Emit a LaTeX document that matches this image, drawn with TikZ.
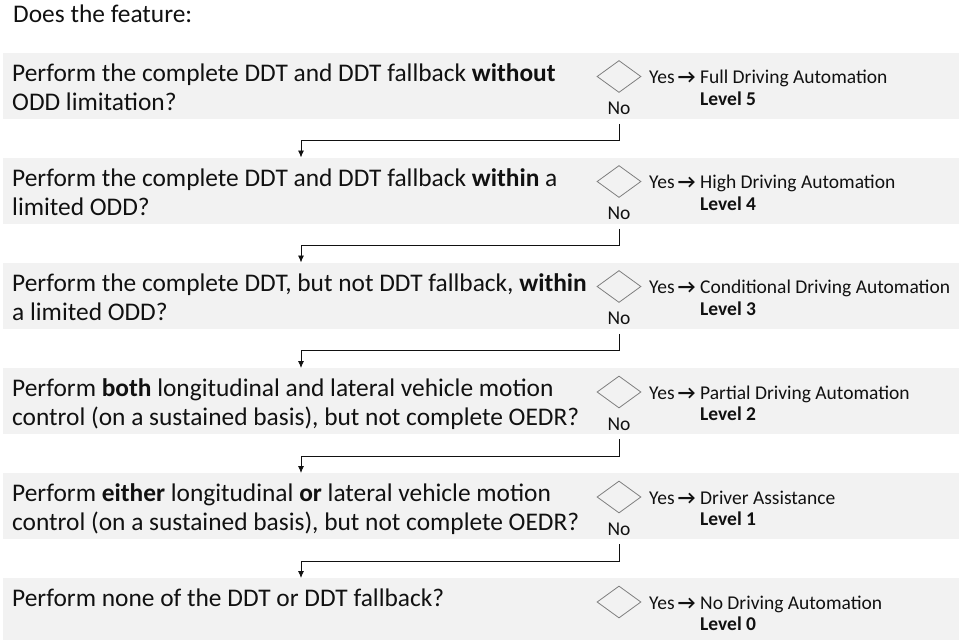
\documentclass[tikz,border=0pt]{standalone}
\usepackage{fontspec}
\setmainfont{Carlito}
\usetikzlibrary{shapes.geometric,arrows.meta}
\definecolor{bandgray}{HTML}{F2F2F2}
\definecolor{inkgray}{HTML}{7F7F7F}
\definecolor{ink}{HTML}{111111}

\begin{document}
\begin{tikzpicture}[x=1pt,y=-1pt,
    band/.style={fill=bandgray,draw=none,inner sep=0pt,outer sep=0pt,anchor=north west,
      minimum width=956pt,minimum height=66pt},
    question/.style={anchor=base west,inner sep=0pt,align=left,text=ink,
      font=\fontsize{25.4}{29}\selectfont},
    choice/.style={diamond,draw=inkgray,line width=0.8pt,inner sep=0pt,
      minimum width=44pt,minimum height=32pt,aspect=1.375},
    reply/.style={inner sep=0pt,text=ink,font=\fontsize{19.5}{22}\selectfont},
    answer/.style={reply,anchor=base west},
    flow/.style={draw=ink,line width=0.8pt,shorten <=9pt,-{Latex[length=7pt,width=6pt]}}]
  \useasboundingbox (0,0) rectangle (959,640);
  \node[question] (head) at (13,22.7) {Does the feature:};
  % level 5
  \node[band] (b5) at (3,52.5) {};
  \node[question] (q5) at (12,110) {Perform the complete DDT and DDT fallback \textbf{without}\\ODD limitation?};
  \node[choice] (d5) at (619,76.5) {};
  \node[reply,anchor=base] (no5) at (619,114.5) {No};
  \node[answer] (yes5) at (649,83.5) {Yes\,\textbf{→}};
  \node[answer] (a5) at (700,83.5) {Full Driving Automation};
  \node[answer] (l5) at (700,105) {\textbf{Level 5}};
  \coordinate (t5) at (301,140.5);
  % level 4
  \node[band] (b4) at (3,157.5) {};
  \node[question] (q4) at (12,215) {Perform the complete DDT and DDT fallback \textbf{within} a\\limited ODD?};
  \node[choice] (d4) at (619,181.5) {};
  \node[reply,anchor=base] (no4) at (619,219.5) {No};
  \node[answer] (yes4) at (649,188.5) {Yes\,\textbf{→}};
  \node[answer] (a4) at (700,188.5) {High Driving Automation};
  \node[answer] (l4) at (700,210) {\textbf{Level 4}};
  \coordinate (t4) at (301,245.5);
  % level 3
  \node[band] (b3) at (3,262.5) {};
  \node[question] (q3) at (12,320) {Perform the complete DDT, but not DDT fallback, \textbf{within}\\a limited ODD?};
  \node[choice] (d3) at (619,286.5) {};
  \node[reply,anchor=base] (no3) at (619,324.5) {No};
  \node[answer] (yes3) at (649,293.5) {Yes\,\textbf{→}};
  \node[answer] (a3) at (700,293.5) {Conditional Driving Automation};
  \node[answer] (l3) at (700,315) {\textbf{Level 3}};
  \coordinate (t3) at (301,350.5);
  % level 2
  \node[band] (b2) at (3,368) {};
  \node[question] (q2) at (12,425.5) {Perform \textbf{both} longitudinal and lateral vehicle motion\\control (on a sustained basis), but not complete OEDR?};
  \node[choice] (d2) at (619,392) {};
  \node[reply,anchor=base] (no2) at (619,430) {No};
  \node[answer] (yes2) at (649,399) {Yes\,\textbf{→}};
  \node[answer] (a2) at (700,399) {Partial Driving Automation};
  \node[answer] (l2) at (700,420.5) {\textbf{Level 2}};
  \coordinate (t2) at (301,456);
  % level 1
  \node[band] (b1) at (3,473) {};
  \node[question] (q1) at (12,530.5) {Perform \textbf{either} longitudinal \textbf{or} lateral vehicle motion\\control (on a sustained basis), but not complete OEDR?};
  \node[choice] (d1) at (619,497) {};
  \node[reply,anchor=base] (no1) at (619,535) {No};
  \node[answer] (yes1) at (649,504) {Yes\,\textbf{→}};
  \node[answer] (a1) at (700,504) {Driver Assistance};
  \node[answer] (l1) at (700,525.5) {\textbf{Level 1}};
  \coordinate (t1) at (301,561);
  % level 0
  \node[band] (b0) at (3,578) {};
  \node[question] (q0) at (12,606) {Perform none of the DDT or DDT fallback?};
  \node[choice] (d0) at (619,602) {};
  \node[answer] (yes0) at (649,609) {Yes\,\textbf{→}};
  \node[answer] (a0) at (700,609) {No Driving Automation};
  \node[answer] (l0) at (700,630.5) {\textbf{Level 0}};
  % the No branches
  \draw[flow] (no5.south) |- (t5) -- (b4.north -| t5);
  \draw[flow] (no4.south) |- (t4) -- (b3.north -| t4);
  \draw[flow] (no3.south) |- (t3) -- (b2.north -| t3);
  \draw[flow] (no2.south) |- (t2) -- (b1.north -| t2);
  \draw[flow] (no1.south) |- (t1) -- (b0.north -| t1);
\end{tikzpicture}
\end{document}
